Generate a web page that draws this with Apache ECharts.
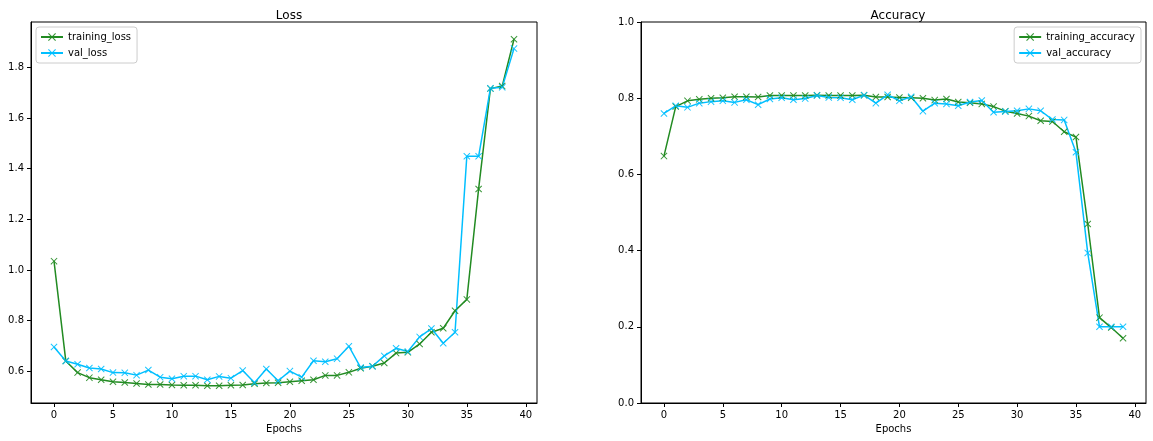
<!DOCTYPE html>
<html>
<head>
<meta charset="utf-8">
<script src="https://cdn.jsdelivr.net/npm/echarts@6/dist/echarts.min.js"></script>
<style>
  html, body { margin: 0; padding: 0; background: #fff; }
  #main { width: 1153px; height: 441px; }
</style>
</head>
<body>
<div id="main"></div>
<script>
// epochs along x
const epochs = [0, 1, 2, 3, 4, 5, 6, 7, 8, 9, 10, 11, 12, 13, 14, 15, 16, 17, 18, 19,
                20, 21, 22, 23, 24, 25, 26, 27, 28, 29, 30, 31, 32, 33, 34, 35, 36, 37, 38, 39];

// values
const trainingLoss = [1.035, 0.641, 0.595, 0.575, 0.567, 0.559, 0.556, 0.552, 0.548, 0.548,
                      0.546, 0.545, 0.545, 0.543, 0.543, 0.545, 0.546, 0.551, 0.554, 0.555,
                      0.559, 0.563, 0.567, 0.584, 0.584, 0.596, 0.612, 0.620, 0.633, 0.672,
                      0.675, 0.708, 0.754, 0.770, 0.839, 0.884, 1.320, 1.716, 1.726, 1.911];
const valLoss = [0.696, 0.641, 0.628, 0.613, 0.609, 0.595, 0.594, 0.585, 0.605, 0.577,
                 0.571, 0.581, 0.581, 0.567, 0.580, 0.573, 0.603, 0.555, 0.609, 0.563,
                 0.601, 0.577, 0.642, 0.638, 0.650, 0.699, 0.615, 0.620, 0.661, 0.691,
                 0.678, 0.736, 0.769, 0.711, 0.754, 1.449, 1.449, 1.717, 1.721, 1.874];
const trainingAccuracy = [0.648, 0.778, 0.793, 0.797, 0.800, 0.801, 0.804, 0.804, 0.803, 0.807,
                          0.807, 0.807, 0.807, 0.808, 0.807, 0.807, 0.807, 0.808, 0.803, 0.803,
                          0.802, 0.801, 0.800, 0.795, 0.798, 0.790, 0.788, 0.785, 0.778, 0.766,
                          0.760, 0.753, 0.741, 0.739, 0.712, 0.698, 0.470, 0.224, 0.198, 0.170];
const valAccuracy = [0.760, 0.780, 0.776, 0.787, 0.791, 0.793, 0.789, 0.796, 0.783, 0.798,
                     0.801, 0.796, 0.799, 0.807, 0.802, 0.801, 0.796, 0.808, 0.787, 0.809,
                     0.793, 0.804, 0.766, 0.787, 0.785, 0.780, 0.790, 0.794, 0.763, 0.765,
                     0.767, 0.772, 0.767, 0.744, 0.743, 0.658, 0.394, 0.200, 0.200, 0.200];

// tick labels
const xTicks = [0, 5, 10, 15, 20, 25, 30, 35, 40];
const lossTicks = [0.6, 0.8, 1.0, 1.2, 1.4, 1.6, 1.8];
const accTicks = [0.0, 0.2, 0.4, 0.6, 0.8, 1.0];

const GREEN = '#228B22';
const CYAN = '#00BFFF';
const FONT = 'DejaVu Sans';
// matplotlib style 'x' marker as a thin filled cross
const X_MARK = 'path://M0,1L1,0L5,4L9,0L10,1L6,5L10,9L9,10L5,6L1,10L0,9L4,5Z';

const pairs = (ys) => epochs.map((e, i) => [e, ys[i]]);

function xAxisFor(gridIndex) {
    return {
        type: 'value', gridIndex,
        min: -1.95, max: 40.95,
        name: 'Epochs', nameLocation: 'middle', nameGap: 21,
        nameTextStyle: {color: '#000', fontFamily: FONT, fontSize: 10},
        axisLine: {show: true, onZero: false, lineStyle: {color: '#000', width: 1}},
        axisTick: {show: true, inside: false, length: 4, customValues: xTicks, lineStyle: {color: '#000'}},
        axisLabel: {show: true, margin: 7, customValues: xTicks, color: '#000', fontFamily: FONT, fontSize: 10},
        splitLine: {show: false}
    };
}

function yAxisFor(gridIndex, min, max, ticks) {
    return {
        type: 'value', gridIndex, min, max,
        axisLine: {show: true, onZero: false, lineStyle: {color: '#000', width: 1}},
        axisTick: {show: true, inside: false, length: 4, customValues: ticks, lineStyle: {color: '#000'}},
        axisLabel: {
            show: true, margin: 7, customValues: ticks, color: '#000', fontFamily: FONT, fontSize: 10,
            formatter: v => v.toFixed(1)
        },
        splitLine: {show: false}
    };
}

function lineSeries(name, ys, color, idx) {
    return {
        name, type: 'line', xAxisIndex: idx, yAxisIndex: idx,
        data: pairs(ys),
        symbol: X_MARK, symbolSize: 7, showAllSymbol: true,
        lineStyle: {color, width: 1.5},
        itemStyle: {color, opacity: 0.9},
        emphasis: {disabled: true},
        animation: false
    };
}

function legendFor(names, pos) {
    return Object.assign({
        top: 27, orient: 'vertical',
        data: names,
        itemWidth: 22, itemHeight: 10, itemGap: 6,
        padding: [5, 6, 5, 4],
        borderColor: '#cccccc', borderWidth: 1, borderRadius: 3,
        backgroundColor: 'rgba(255,255,255,0.8)',
        textStyle: {color: '#000', fontFamily: FONT, fontSize: 10},
        selectedMode: false
    }, pos);
}

const chart = echarts.init(document.getElementById('main'), null, {renderer: 'canvas'});
chart.setOption({
    animation: false,
    backgroundColor: '#fff',
    textStyle: {fontFamily: FONT},
    title: [
        {text: 'Loss', left: 284, top: 5, textAlign: 'center',
         textStyle: {color: '#000', fontFamily: FONT, fontSize: 12, fontWeight: 'normal'}},
        {text: 'Accuracy', left: 893, top: 5, textAlign: 'center',
         textStyle: {color: '#000', fontFamily: FONT, fontSize: 12, fontWeight: 'normal'}}
    ],
    legend: [
        legendFor(['training_loss', 'val_loss'], {left: 36}),
        legendFor(['training_accuracy', 'val_accuracy'], {right: 12})
    ],
    grid: [
        {left: 31, top: 22, width: 506, height: 381, show: true, borderColor: '#000', borderWidth: 1},
        {left: 641, top: 22, width: 505, height: 381, show: true, borderColor: '#000', borderWidth: 1}
    ],
    xAxis: [xAxisFor(0), xAxisFor(1)],
    yAxis: [yAxisFor(0, 0.475, 1.979, lossTicks), yAxisFor(1, 0, 1, accTicks)],
    series: [
        lineSeries('training_loss', trainingLoss, GREEN, 0),
        lineSeries('val_loss', valLoss, CYAN, 0),
        lineSeries('training_accuracy', trainingAccuracy, GREEN, 1),
        lineSeries('val_accuracy', valAccuracy, CYAN, 1)
    ]
});
</script>
</body>
</html>
